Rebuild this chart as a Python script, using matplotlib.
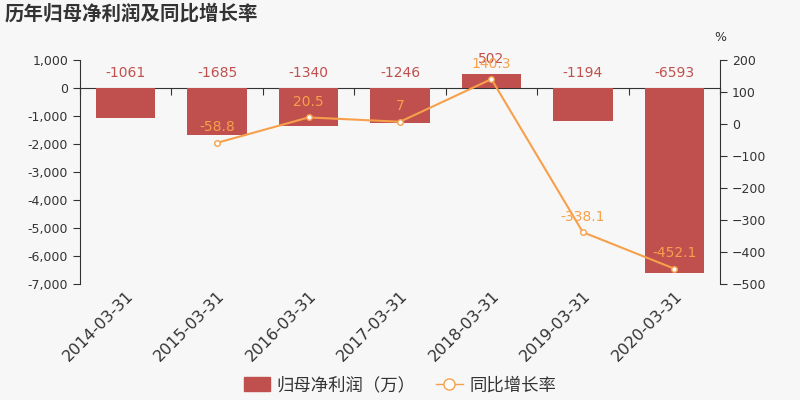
import matplotlib
matplotlib.use('Agg')
import matplotlib.pyplot as plt
from matplotlib.ticker import FuncFormatter
from matplotlib.lines import Line2D
from matplotlib.patches import FancyBboxPatch

CJK = ['Noto Sans CJK SC', 'DejaVu Sans']

dates = ['2014-03-31', '2015-03-31', '2016-03-31', '2017-03-31',
         '2018-03-31', '2019-03-31', '2020-03-31']
profit = [-1061, -1685, -1340, -1246, 502, -1194, -6593]
growth = [None, -58.8, 20.5, 7, 140.3, -338.1, -452.1]

bar_color = '#c0504d'
line_color = '#f7a04b'
text_color = '#333333'
bg = '#f7f7f7'

fig = plt.figure(figsize=(8, 4), dpi=100, facecolor=bg)
ax = fig.add_axes([0.1, 0.29, 0.8, 0.56], facecolor=bg)
ax2 = ax.twinx()

x = list(range(len(dates)))
ax.bar(x, profit, width=0.65, color=bar_color, zorder=2)
ax.set_xlim(-0.5, len(dates) - 0.5)
ax.set_ylim(-7000, 1000)
ax.set_yticks(range(-7000, 1001, 1000))
ax.yaxis.set_major_formatter(FuncFormatter(lambda v, p: f'{int(v):,}'))

for xi, v in zip(x, profit):
    ax.annotate(str(v), (xi, max(v, 0)), xytext=(0, 6), textcoords='offset points',
                ha='center', va='bottom', color=bar_color, fontsize=10)

gx = [xi for xi, g in zip(x, growth) if g is not None]
gy = [g for g in growth if g is not None]
ax2.plot(gx, gy, color=line_color, lw=1.5, marker='o', ms=4,
         mfc='white', mec=line_color, mew=1, zorder=3)
ax2.set_ylim(-500, 200)
ax2.set_yticks(range(-500, 201, 100))
for xi, g in zip(gx, gy):
    ax2.annotate(f'{g:g}', (xi, g), xytext=(0, 6), textcoords='offset points',
                 ha='center', va='bottom', color=line_color, fontsize=10)

# spines and ticks
for a in (ax, ax2):
    for s in ('top', 'bottom'):
        a.spines[s].set_visible(False)
    a.spines['left'].set_color(text_color)
    a.spines['right'].set_color(text_color)
    a.tick_params(axis='y', colors=text_color, labelsize=9, length=5)
ax.spines['right'].set_visible(False)
ax2.spines['left'].set_visible(False)

ax.set_xticks(x)
ax.set_xticklabels(dates, rotation=45, ha='right', rotation_mode='anchor',
                   fontsize=11.5, color=text_color)
ax.tick_params(axis='x', length=0, pad=3)

zero_axis = ax.secondary_xaxis(0, transform=ax.transData)
zero_axis.set_xticks([xi - 0.5 for xi in x] + [len(dates) - 0.5])
zero_axis.tick_params(axis='x', direction='out', length=5, color=text_color, labelbottom=False)
zero_axis.spines['bottom'].set_color(text_color)

fig.text(0.9, 0.89, '%', ha='center', va='bottom', fontsize=9, color=text_color)
fig.text(0.006, 0.967, '历年归母净利润及同比增长率', family=CJK, fontsize=14,
         fontweight='bold', color=text_color, ha='left', va='center')

handles = [
    FancyBboxPatch((0, 0), 1, 1, boxstyle='round,pad=0', color=bar_color),
    Line2D([], [], color=line_color, lw=1, marker='o', ms=8, mfc='white', mec=line_color),
]
fig.legend(handles, ['归母净利润（万）', '同比增长率'], loc='center', bbox_to_anchor=(0.5, 0.037),
           ncol=2, frameon=False, prop={'family': CJK, 'size': 12.5},
           handlelength=1.5, handleheight=0.9, handletextpad=0.4, columnspacing=1.2,
           labelcolor=text_color)

fig.savefig('out.png', dpi=100, facecolor=bg)
